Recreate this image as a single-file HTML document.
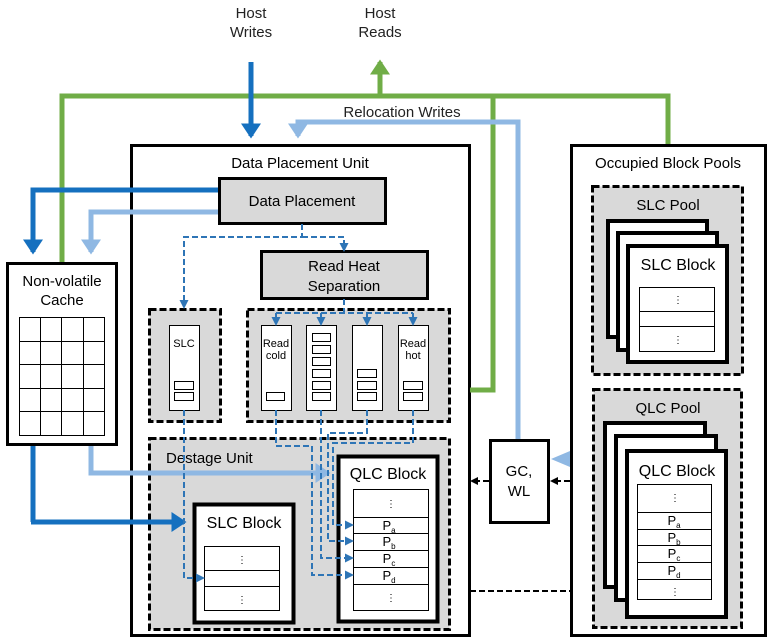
<!DOCTYPE html>
<html><head><meta charset="utf-8"><style>
html,body{margin:0;padding:0;background:#fff;}
svg{display:block;font-family:"Liberation Sans",Arial,sans-serif;}
</style></head><body>
<svg width="769" height="641" viewBox="0 0 769 641" xmlns="http://www.w3.org/2000/svg">
<defs>
<marker id="db" markerWidth="4" markerHeight="4" refX="2.5" refY="2" orient="auto" markerUnits="strokeWidth"><path d="M0,0 L3,2 L0,4 z" fill="#1570bf"/></marker>
<marker id="lb" markerWidth="4" markerHeight="4" refX="2.5" refY="2" orient="auto" markerUnits="strokeWidth"><path d="M0,0 L3,2 L0,4 z" fill="#8fb8e3"/></marker>
<marker id="gr" markerWidth="4" markerHeight="4" refX="2.5" refY="2" orient="auto" markerUnits="strokeWidth"><path d="M0,0 L3,2 L0,4 z" fill="#70ad47"/></marker>
<marker id="dd" markerWidth="9" markerHeight="9" refX="7" refY="4.5" orient="auto" markerUnits="userSpaceOnUse"><path d="M0,0 L9,4.5 L0,9 z" fill="#2e75b6"/></marker>
<marker id="bk" markerWidth="8" markerHeight="8" refX="6" refY="4" orient="auto" markerUnits="userSpaceOnUse"><path d="M0,0 L8,4 L0,8 z" fill="#000"/></marker>
</defs>

<g font-size="15" fill="#222" text-anchor="middle">
<text x="251" y="18">Host</text><text x="251" y="37">Writes</text>
<text x="380" y="18">Host</text><text x="380" y="37">Reads</text>
<text x="402" y="117">Relocation Writes</text>
</g>

<rect x="131.5" y="145.5" width="338" height="490" fill="none" stroke="#000" stroke-width="3"/>
<rect x="571.5" y="145.5" width="194" height="490" fill="none" stroke="#000" stroke-width="3"/>
<text x="300" y="168" font-size="15" text-anchor="middle">Data Placement Unit</text>
<text x="668" y="168" font-size="15" text-anchor="middle">Occupied Block Pools</text>

<g stroke="#70ad47" stroke-width="5" fill="none">
<polyline points="62,262 62,96 668,96 668,144"/>
<polyline points="493,96 493,390 470,390"/>
<line x1="380" y1="96" x2="380" y2="62" marker-end="url(#gr)"/>
</g>
<line x1="251" y1="62" x2="251" y2="136" stroke="#1570bf" stroke-width="5" marker-end="url(#db)"/>
<polyline points="518,439 518,122 298,122 298,136" stroke="#8fb8e3" stroke-width="5" fill="none" marker-end="url(#lb)"/>

<polyline points="218,190 33,190 33,252" stroke="#1570bf" stroke-width="5" fill="none" marker-end="url(#db)"/>
<polyline points="218,212 91,212 91,252" stroke="#8fb8e3" stroke-width="5" fill="none" marker-end="url(#lb)"/>

<rect x="219.5" y="178.5" width="166" height="45" fill="#d9d9d9" stroke="#000" stroke-width="3"/>
<text x="302" y="206" font-size="15" text-anchor="middle">Data Placement</text>
<rect x="261.5" y="251.5" width="166" height="47" fill="#d9d9d9" stroke="#000" stroke-width="3"/>
<text x="344" y="271" font-size="15" text-anchor="middle">Read Heat</text>
<text x="344" y="291" font-size="15" text-anchor="middle">Separation</text>

<g stroke="#000" stroke-width="3" stroke-dasharray="7,3" fill="#d9d9d9">
<rect x="149.5" y="309.5" width="71" height="112"/>
<rect x="247.5" y="309.5" width="202" height="112"/>
<rect x="149.5" y="438.5" width="300" height="191"/>
<rect x="592.5" y="186.5" width="150" height="188"/>
<rect x="593.5" y="389.5" width="148" height="238"/>
</g>
<text x="166" y="463" font-size="15">Destage Unit</text>
<polyline points="91,445 91,473 328,473" stroke="#8fb8e3" stroke-width="5" fill="none" marker-end="url(#lb)"/>
<line x1="33" y1="445" x2="33" y2="522" stroke="#1570bf" stroke-width="5"/>
<line x1="31" y1="522" x2="184" y2="522" stroke="#1570bf" stroke-width="5" marker-end="url(#db)"/>

<g fill="#fff" stroke="#000" stroke-width="1">
<rect x="169.5" y="325.5" width="30" height="85"/>
<rect x="261.5" y="325.5" width="30" height="85"/>
<rect x="306.5" y="325.5" width="30" height="85"/>
<rect x="352.5" y="325.5" width="30" height="85"/>
<rect x="398.5" y="325.5" width="30" height="85"/>
<rect x="174.5" y="381.5" width="19" height="8"/><rect x="174.5" y="392.5" width="19" height="8"/>
<rect x="266.5" y="392.5" width="18" height="8"/>
<rect x="312.5" y="333.5" width="18" height="8"/><rect x="312.5" y="345.5" width="18" height="8"/><rect x="312.5" y="357.5" width="18" height="8"/><rect x="312.5" y="369.5" width="18" height="8"/><rect x="312.5" y="381.5" width="18" height="8"/><rect x="312.5" y="392.5" width="18" height="8"/>
<rect x="357.5" y="369.5" width="19" height="8"/><rect x="357.5" y="381.5" width="19" height="8"/><rect x="357.5" y="392.5" width="19" height="8"/>
<rect x="403.5" y="381.5" width="19" height="8"/><rect x="403.5" y="392.5" width="19" height="8"/>
</g>
<g font-size="11" text-anchor="middle">
<text x="184" y="347">SLC</text>
<text x="276" y="347">Read</text><text x="276" y="359">cold</text>
<text x="413" y="347">Read</text><text x="413" y="359">hot</text>
</g>

<rect x="194.5" y="504.5" width="99" height="118" fill="#fff" stroke="#000" stroke-width="4"/>
<text x="244" y="528" font-size="16" text-anchor="middle">SLC Block</text>
<g fill="#fff" stroke="#000" stroke-width="1">
<rect x="204.5" y="546.5" width="75" height="64"/>
<line x1="204" y1="570.5" x2="280" y2="570.5"/><line x1="204" y1="586.5" x2="280" y2="586.5"/>
</g>
<text x="242" y="563" font-size="10" text-anchor="middle">⋮</text><text x="242" y="603" font-size="10" text-anchor="middle">⋮</text>

<rect x="338.5" y="456.5" width="99" height="165" fill="#fff" stroke="#000" stroke-width="4"/>
<text x="388" y="479" font-size="16" text-anchor="middle">QLC Block</text>
<g fill="#fff" stroke="#000" stroke-width="1">
<rect x="353.5" y="489.5" width="75" height="121"/>
<line x1="353" y1="517.5" x2="429" y2="517.5"/><line x1="353" y1="533.5" x2="429" y2="533.5"/><line x1="353" y1="550.5" x2="429" y2="550.5"/><line x1="353" y1="567.5" x2="429" y2="567.5"/><line x1="353" y1="584.5" x2="429" y2="584.5"/>
</g>
<g font-size="13" text-anchor="middle">
<text x="391" y="507" font-size="10">⋮</text>
<text x="389" y="530">P<tspan font-size="8" dy="3">a</tspan></text>
<text x="389" y="546">P<tspan font-size="8" dy="3">b</tspan></text>
<text x="389" y="563">P<tspan font-size="8" dy="3">c</tspan></text>
<text x="389" y="580">P<tspan font-size="8" dy="3">d</tspan></text>
<text x="391" y="601" font-size="10">⋮</text>
</g>

<g stroke="#2e75b6" stroke-width="2" stroke-dasharray="6,3" fill="none">
<polyline points="302,224 302,237 184,237 184,307" marker-end="url(#dd)"/>
<polyline points="302,237 344,237 344,250" marker-end="url(#dd)"/>
<line x1="344" y1="299" x2="344" y2="313"/>
<polyline points="276,313 413,313"/>
<line x1="276" y1="313" x2="276" y2="324" marker-end="url(#dd)"/>
<line x1="321" y1="313" x2="321" y2="324" marker-end="url(#dd)"/>
<line x1="367" y1="313" x2="367" y2="324" marker-end="url(#dd)"/>
<line x1="413" y1="313" x2="413" y2="324" marker-end="url(#dd)"/>
<polyline points="184,410 184,578 203,578" marker-end="url(#dd)"/>
<polyline points="276,410 276,446 312,446 312,575 352,575" marker-end="url(#dd)"/>
<polyline points="321,410 321,558 352,558" marker-end="url(#dd)"/>
<polyline points="367,410 367,433 328,433 328,541 352,541" marker-end="url(#dd)"/>
<polyline points="413,410 413,443 333,443 333,525 352,525" marker-end="url(#dd)"/>
</g>

<rect x="7.5" y="263.5" width="109" height="181" fill="#fff" stroke="#000" stroke-width="3"/>
<text x="62" y="286" font-size="15" text-anchor="middle">Non-volatile</text>
<text x="62" y="305" font-size="15" text-anchor="middle">Cache</text>
<g stroke="#000" stroke-width="1" fill="none">
<rect x="19.5" y="317.5" width="85" height="118"/>
<line x1="40.5" y1="317" x2="40.5" y2="436"/><line x1="61.5" y1="317" x2="61.5" y2="436"/><line x1="83.5" y1="317" x2="83.5" y2="436"/>
<line x1="19" y1="341.5" x2="105" y2="341.5"/><line x1="19" y1="364.5" x2="105" y2="364.5"/><line x1="19" y1="388.5" x2="105" y2="388.5"/><line x1="19" y1="411.5" x2="105" y2="411.5"/>
</g>

<rect x="490.5" y="440.5" width="58" height="82" fill="#fff" stroke="#000" stroke-width="3"/>
<text x="519" y="476" font-size="15" text-anchor="middle">GC,</text>
<text x="519" y="496" font-size="15" text-anchor="middle">WL</text>
<path d="M551,459 L570,451 L570,467 z" fill="#8fb8e3"/>
<g stroke="#000" stroke-width="2" stroke-dasharray="6,3" fill="none">
<line x1="570" y1="481" x2="552" y2="481" marker-end="url(#bk)"/>
<line x1="489" y1="481" x2="472" y2="481" marker-end="url(#bk)"/>
<line x1="470" y1="591" x2="570" y2="591"/>
</g>

<text x="668" y="210" font-size="15" text-anchor="middle">SLC Pool</text>
<g fill="#fff" stroke="#000" stroke-width="4">
<rect x="608" y="221" width="99" height="116"/>
<rect x="618" y="233" width="99" height="117"/>
<rect x="628" y="246" width="99" height="116"/>
</g>
<text x="678" y="270" font-size="16" text-anchor="middle">SLC Block</text>
<g fill="#fff" stroke="#000" stroke-width="1">
<rect x="639.5" y="287.5" width="75" height="64"/>
<line x1="639" y1="311.5" x2="715" y2="311.5"/><line x1="639" y1="326.5" x2="715" y2="326.5"/>
</g>
<text x="678" y="303" font-size="10" text-anchor="middle">⋮</text><text x="678" y="343" font-size="10" text-anchor="middle">⋮</text>

<text x="668" y="413" font-size="15" text-anchor="middle">QLC Pool</text>
<g fill="#fff" stroke="#000" stroke-width="4">
<rect x="605" y="423" width="100" height="164"/>
<rect x="616" y="436" width="100" height="164"/>
<rect x="627" y="451" width="99" height="166"/>
</g>
<text x="677" y="476" font-size="16" text-anchor="middle">QLC Block</text>
<g fill="#fff" stroke="#000" stroke-width="1">
<rect x="637.5" y="484.5" width="74" height="115"/>
<line x1="637" y1="512.5" x2="712" y2="512.5"/><line x1="637" y1="529.5" x2="712" y2="529.5"/><line x1="637" y1="545.5" x2="712" y2="545.5"/><line x1="637" y1="562.5" x2="712" y2="562.5"/><line x1="637" y1="579.5" x2="712" y2="579.5"/>
</g>
<g font-size="13" text-anchor="middle">
<text x="675" y="501" font-size="10">⋮</text>
<text x="674" y="525">P<tspan font-size="8" dy="3">a</tspan></text>
<text x="674" y="542">P<tspan font-size="8" dy="3">b</tspan></text>
<text x="674" y="558">P<tspan font-size="8" dy="3">c</tspan></text>
<text x="674" y="575">P<tspan font-size="8" dy="3">d</tspan></text>
<text x="675" y="595" font-size="10">⋮</text>
</g>
</svg>
</body></html>
